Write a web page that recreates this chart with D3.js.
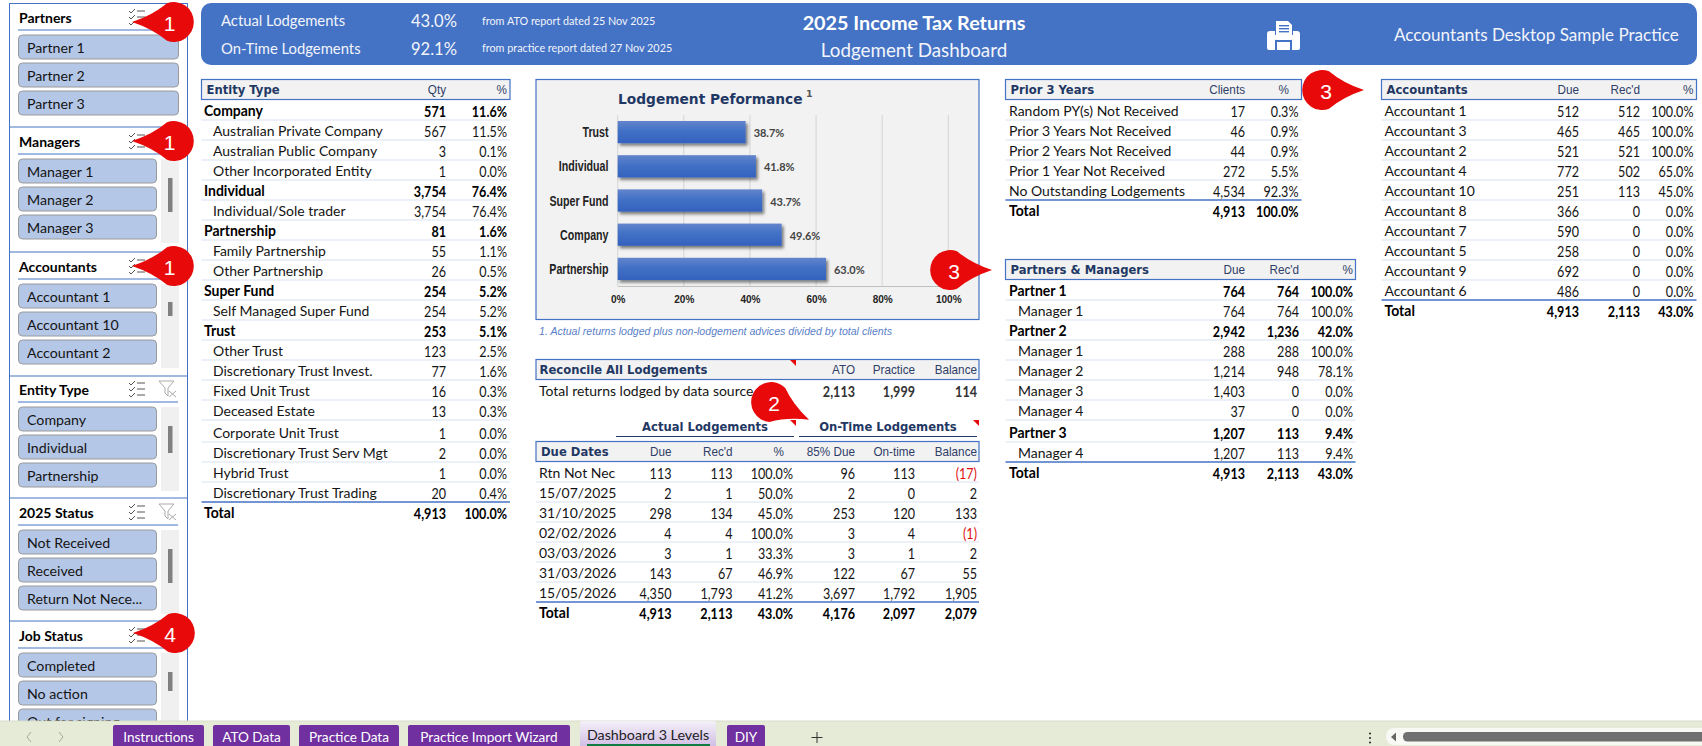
<!DOCTYPE html>
<html><head><meta charset="utf-8">
<script src="https://cdn.jsdelivr.net/npm/d3@7"></script>
<style>
html,body{margin:0;padding:0;background:#fff;overflow:hidden}
svg{display:block}
.cell{font-family:Lato,Carlito,sans-serif;font-size:14.2px;fill:#141414;dominant-baseline:central}
.cell.b{font-weight:700;fill:#000}
.thead{font-family:"DejaVu Sans",sans-serif;font-weight:700;font-size:11.6px;fill:#1f3864;dominant-baseline:central}
.chead{font-family:"Liberation Sans",sans-serif;font-size:13px;fill:#2f4068;dominant-baseline:central;text-anchor:end}
.hdr{font-family:Lato,sans-serif;fill:#f2f5fc;dominant-baseline:central}
</style></head><body><div id="chart"></div>
<script>
// ---- slicers ----
const partnerItems=["Partner 1","Partner 2","Partner 3"];
const managerItems=["Manager 1","Manager 2","Manager 3"];
const accountantItems=["Accountant 1","Accountant 10","Accountant 2"];
const entityItems=["Company","Individual","Partnership"];
const statusItems=["Not Received","Received","Return Not Nece..."];
const jobItems=["Completed","No action","Out for signing"];
// ---- performance chart ----
const perfCategories=["Trust","Individual","Super Fund","Company","Partnership"];
const perfValues=[38.7,41.8,43.7,49.6,63.0];
const perfTicks=[0,20,40,60,80,100];
// ---- entity table ----
const entityNames=["Company","Australian Private Company","Australian Public Company","Other Incorporated Entity","Individual","Individual/Sole trader","Partnership","Family Partnership","Other Partnership","Super Fund","Self Managed Super Fund","Trust","Other Trust","Discretionary Trust Invest.","Fixed Unit Trust","Deceased Estate","Corporate Unit Trust","Discretionary Trust Serv Mgt","Hybrid Trust","Discretionary Trust Trading","Total"];
const entityQty=[571,567,3,1,3754,3754,81,55,26,254,254,253,123,77,16,13,1,2,1,20,4913];
const entityPct=[11.6,11.5,0.1,0.0,76.4,76.4,1.6,1.1,0.5,5.2,5.2,5.1,2.5,1.6,0.3,0.3,0.0,0.0,0.0,0.4,100.0];
const entityGroups=["Company","Individual","Partnership","Super Fund","Trust"];
// ---- prior years ----
const priorNames=["Random PY(s) Not Received","Prior 3 Years Not Received","Prior 2 Years Not Received","Prior 1 Year Not Received","No Outstanding Lodgements","Total"];
const priorClients=[17,46,44,272,4534,4913];
const priorPct=[0.3,0.9,0.9,5.5,92.3,100.0];
// ---- partners & managers ----
const pmNames=["Partner 1","Manager 1","Partner 2","Manager 1","Manager 2","Manager 3","Manager 4","Partner 3","Manager 4","Total"];
const pmDue=[764,764,2942,288,1214,1403,37,1207,1207,4913];
const pmRecd=[764,764,1236,288,948,0,0,113,113,2113];
const pmPct=[100.0,100.0,42.0,100.0,78.1,0.0,0.0,9.4,9.4,43.0];
const pmGroups=["Partner 1","Partner 2","Partner 3"];
// ---- accountants ----
const accNames=["Accountant 1","Accountant 3","Accountant 2","Accountant 4","Accountant 10","Accountant 8","Accountant 7","Accountant 5","Accountant 9","Accountant 6","Total"];
const accDue=[512,465,521,772,251,366,590,258,692,486,4913];
const accRecd=[512,465,521,502,113,0,0,0,0,0,2113];
const accPct=[100.0,100.0,100.0,65.0,45.0,0.0,0.0,0.0,0.0,0.0,43.0];
// ---- reconcile ----
const reconcileLabel=["Total returns lodged by data source"];
const reconcileAto=[2113], reconcilePractice=[1999], reconcileBalance=[114];
// ---- due dates ----
const dueNames=["Rtn Not Nec","15/07/2025","31/10/2025","02/02/2026","03/03/2026","31/03/2026","15/05/2026","Total"];
const dueDue=[113,2,298,4,3,143,4350,4913];
const dueRecd=[113,1,134,4,1,67,1793,2113];
const duePct=[100.0,50.0,45.0,100.0,33.3,46.9,41.2,43.0];
const due85=[96,2,253,3,3,122,3697,4176];
const dueOnTime=[113,0,120,4,1,67,1792,2097];
const dueBalance=[-17,2,133,-1,2,55,1905,2079];
// ---- tabs ----
const tabNames=["Instructions","ATO Data","Practice Data","Practice Import Wizard","Dashboard 3 Levels","DIY"];

const W=1702,H=746,BLUE="#4472c4",NAVY="#1f3864";
const fi=d3.format(","),fp=v=>d3.format(".1f")(v)+"%";
const svg=d3.select("#chart").append("svg").attr("width",W).attr("height",H).attr("viewBox",`0 0 ${W} ${H}`);
const defs=svg.append("defs");
const grad=defs.append("linearGradient").attr("id","barGrad").attr("x1",0).attr("x2",0).attr("y1",0).attr("y2",1);
grad.append("stop").attr("offset","0").attr("stop-color","#6384cc");
grad.append("stop").attr("offset","0.45").attr("stop-color","#4271c6");
grad.append("stop").attr("offset","1").attr("stop-color","#3361bd");
const sh=defs.append("filter").attr("id","barShadow").attr("x","-5%").attr("y","-20%").attr("width","115%").attr("height","150%");
sh.append("feDropShadow").attr("dx",2).attr("dy",2.5).attr("stdDeviation",1.6).attr("flood-color","#000").attr("flood-opacity",.5);
const tg=defs.append("linearGradient").attr("id","tabGrad").attr("x1",0).attr("x2",0).attr("y1",0).attr("y2",1);
tg.append("stop").attr("offset","0").attr("stop-color","#f4f0f8");
tg.append("stop").attr("offset","1").attr("stop-color","#d2bfe6");

function line(g,x1,x2,y1,y2,col,w){return g.append("line").attr("x1",x1).attr("x2",x2).attr("y1",y1).attr("y2",y2).attr("stroke",col).attr("stroke-width",w||1);}
function txt(g,x,y,s,cls,anchor){return g.append("text").attr("x",x).attr("y",y).attr("class",cls).attr("text-anchor",anchor||"start").text(s);}
// condense a text horizontally, the reference faces are narrower than the installed ones
function squeeze(sel,f){return sel.each(function(){const l=this.getComputedTextLength();d3.select(this).attr("textLength",l*f).attr("lengthAdjust","spacingAndGlyphs");});}

// ===== Header banner =====
const hb=svg.append("g");
hb.append("rect").attr("x",201).attr("y",3).attr("width",1496).attr("height",62).attr("rx",10).attr("fill",BLUE);
txt(hb,221,20,"Actual Lodgements","hdr").style("font-size","14.8px");
txt(hb,221,48,"On-Time Lodgements","hdr").style("font-size","14.8px");
squeeze(txt(hb,411,20,"43.0%","hdr").style("font-size","18px"),.92);
squeeze(txt(hb,411,48,"92.1%","hdr").style("font-size","18px"),.92);
txt(hb,482,20,"from ATO report dated 25 Nov 2025","hdr").style("font-size","10.8px");
txt(hb,482,47,"from practice report dated 27 Nov 2025","hdr").style("font-size","10.8px");
txt(hb,914,22,"2025 Income Tax Returns","hdr","middle").style("font-size","19.8px").style("font-weight",700).style("fill","#fff");
txt(hb,914,49,"Lodgement Dashboard","hdr","middle").style("font-size","18.8px");
txt(hb,1394,34,"Accountants Desktop Sample Practice","hdr").style("font-size","17.1px");
// printer icon
const pr=hb.append("g").attr("transform","translate(1267,21)");
pr.append("path").attr("d","M9 0H21L25 4V14H9Z").attr("fill","#fff");
pr.append("path").attr("d","M3 10H8V14H26V10H30Q33 10 33 13V27Q33 29 31 29H2Q0 29 0 27V13Q0 10 3 10Z").attr("fill","#fff");
pr.append("rect").attr("x",8).attr("y",19).attr("width",17).attr("height",10).attr("fill",BLUE);
pr.append("rect").attr("x",10).attr("y",21).attr("width",13).attr("height",8).attr("fill","#fff");
[4,7,10].forEach(y=>pr.append("rect").attr("x",12).attr("y",y).attr("width",10).attr("height",1.4).attr("fill",BLUE));

// ===== Slicers =====
function listIcon(g,x,y){
  const i=g.append("g").attr("transform",`translate(${x},${y})`).attr("fill","none").attr("stroke","#555").attr("stroke-width",1);
  [0,6,12].forEach(d=>{i.append("path").attr("d",`M0 ${d+2}L2 ${d+4}L6 ${d}`);i.append("path").attr("d",`M8 ${d+2}H16`);});
}
function filterIcon(g,x,y){
  const i=g.append("g").attr("transform",`translate(${x},${y})`).attr("fill","none").attr("stroke","#aaa").attr("stroke-width",1);
  i.append("path").attr("d","M0 0H15L9 7V15L6 12V7Z");
  i.append("path").attr("d","M10 10L17 16M17 10L10 16");
}
function slicer(top,bottom,title,items,opt){
  const g=svg.append("g"),scroll=opt.thumb;
  line(g,10,187,bottom,bottom,BLUE);
  const t=top+14;
  txt(g,19,t,title,"cell b").style("font-size","14px");
  line(g,18,178,t+13,t+13,BLUE);
  listIcon(g,129,t-8); filterIcon(g,159,t-8);
  const bw=scroll?138:160, y0=t+18;
  const yS=d3.scaleBand().domain(items).range([y0,y0+80]).paddingInner(4/28).paddingOuter(0);
  if(scroll){
    g.append("rect").attr("x",161).attr("y",y0).attr("width",18).attr("height",Math.min(84,721-y0)).attr("fill","#f0f0f0");
    g.append("rect").attr("x",168).attr("y",scroll[0]).attr("width",4.5).attr("height",scroll[1]-scroll[0]).attr("fill","#808080");
  }
  items.forEach(d=>{
    g.append("rect").attr("x",18.5).attr("y",yS(d)).attr("width",bw).attr("height",24).attr("rx",4).attr("fill","#b4c7e7").attr("stroke","#9a9a9a");
    txt(g,27,yS(d)+12.5,d,"cell").style("font-size","14.2px");
  });
}
svg.append("rect").attr("x",9.5).attr("y",3.5).attr("width",178).attr("height",718).attr("fill","#fff").attr("stroke",BLUE);
slicer(3,127,"Partners",partnerItems,{});
slicer(127,252,"Managers",managerItems,{thumb:[178,212]});
slicer(252,376,"Accountants",accountantItems,{thumb:[302,316]});
slicer(375,498,"Entity Type",entityItems,{thumb:[426,453]});
slicer(498,621,"2025 Status",statusItems,{thumb:[549,583]});
slicer(621,1000,"Job Status",jobItems,{thumb:[672,691]});

// ===== Generic table =====
function table(o){
  const g=svg.append("g");
  const h=o.top;
  g.append("rect").attr("x",o.x0).attr("y",h).attr("width",o.x1-o.x0).attr("height",20).attr("fill","#f2f2f2").attr("stroke",BLUE).attr("stroke-width",1.2);
  txt(g,o.x0+o.titleDx,h+10,o.title,"thead");
  o.cols.forEach(c=>squeeze(txt(g,c.hx||c.x,h+10,c.head,"chead"),.9));
  const n=o.names.length;
  const base=d3.scaleLinear().domain([0,1]).range([h+31,h+51]);
  const yR=i=>base(i)+(o.gapFrom!=null&&i>=o.gapFrom?2:0);
  o.names.forEach((name,i)=>{
    const isTotal=name==="Total", y=yR(i);
    const bold=isTotal||(o.groups||[]).includes(name);
    if(i<n-1) line(g,o.x0,o.x1,y+9.5,y+9.5,i===n-2&&o.hasTotal!==false?BLUE:"#d9e2f3",i===n-2&&o.hasTotal!==false?1.3:1);
    const indent=o.groups&&!bold?o.indent:0;
    squeeze(txt(g,o.x0+o.textDx+indent,y,name,"cell"+(bold?" b":"")),.985);
    o.cols.forEach(c=>{
      const v=c.vals[i];
      const t=txt(g,c.x,y,c.fmt(v),"cell"+(bold||c.bold?" b":""),"end").style("font-size","14.8px");
      squeeze(t,.85);
      if(c.bold) t.style("fill","#333");
      if(v<0&&c.red) t.style("fill","#e01010");
    });
  });
}
const fb=v=>v<0?`(${fi(-v)})`:fi(v);
table({x0:201.5,x1:510,top:79.5,title:"Entity Type",titleDx:5,textDx:2.5,indent:9,names:entityNames,groups:entityGroups,gapFrom:16,
  cols:[{head:"Qty",x:446,vals:entityQty,fmt:fi},{head:"%",x:507,vals:entityPct,fmt:fp}]});
table({x0:1005.5,x1:1301.5,top:79.5,title:"Prior 3 Years",titleDx:5,textDx:3.5,names:priorNames,
  cols:[{head:"Clients",x:1245,vals:priorClients,fmt:fi},{head:"%",x:1298.5,hx:1289,vals:priorPct,fmt:fp}]});
table({x0:1005.5,x1:1355.5,top:259.5,title:"Partners & Managers",titleDx:5,textDx:3.5,indent:9,names:pmNames,groups:pmGroups,gapFrom:7,
  cols:[{head:"Due",x:1245,vals:pmDue,fmt:fi},{head:"Rec'd",x:1299,vals:pmRecd,fmt:fi},{head:"%",x:1353,vals:pmPct,fmt:fp}]});
table({x0:1381.5,x1:1696.5,top:79.5,title:"Accountants",titleDx:5,textDx:3,names:accNames,
  cols:[{head:"Due",x:1579,vals:accDue,fmt:fi},{head:"Rec'd",x:1640,vals:accRecd,fmt:fi},{head:"%",x:1693.5,vals:accPct,fmt:fp}]});
table({x0:536,x1:979,top:359.5,title:"Reconcile All Lodgements",titleDx:3.5,textDx:3,names:reconcileLabel,hasTotal:false,
  cols:[{head:"ATO",x:855,vals:reconcileAto,fmt:fi,bold:1},{head:"Practice",x:915,vals:reconcilePractice,fmt:fi,bold:1},{head:"Balance",x:977,vals:reconcileBalance,fmt:fi,bold:1}]});
table({x0:536,x1:979,top:441.5,title:"Due Dates",titleDx:5,textDx:3,names:dueNames,
  cols:[{head:"Due",x:671.5,vals:dueDue,fmt:fi},{head:"Rec'd",x:732.5,vals:dueRecd,fmt:fi},{head:"%",x:793,hx:784,vals:duePct,fmt:fp},
        {head:"85% Due",x:855,vals:due85,fmt:fi},{head:"On-time",x:915,vals:dueOnTime,fmt:fi},{head:"Balance",x:977,vals:dueBalance,fmt:fb,red:1}]});
// group headings
const gh=svg.append("g");
txt(gh,705,427,"Actual Lodgements","thead","middle");
txt(gh,888,427,"On-Time Lodgements","thead","middle");
line(gh,616,794,436.5,436.5,NAVY,1.2);
line(gh,799,977,436.5,436.5,NAVY,1.2);
[[790,360],[790,420],[973,420]].forEach(p=>gh.append("path").attr("d",`M${p[0]} ${p[1]}H${p[0]+6}V${p[1]+6}Z`).attr("fill","#e60b0b"));

// ===== Performance chart =====
const cg=svg.append("g");
cg.append("rect").attr("x",536).attr("y",79.5).attr("width",443).attr("height",240).attr("fill","#f2f2f2").attr("stroke",BLUE).attr("stroke-width",1.2);
const x=d3.scaleLinear().domain([0,100]).range([617.7,948.3]);
const y=d3.scaleBand().domain(perfCategories).range([115,286]).paddingInner(.35).paddingOuter(.175);
const axB=d3.axisBottom(x).tickValues(perfTicks).tickFormat(d=>d+"%").tickSize(0).tickPadding(9);
const ax=cg.append("g").attr("transform","translate(0,286)").call(axB);
ax.select(".domain").attr("stroke","#bfbfbf");
ax.selectAll("text").attr("font-family","Liberation Sans, sans-serif").attr("font-weight",700).attr("font-size","10.8px").attr("fill","#222");
squeeze(ax.selectAll("text"),.93);
cg.append("g").selectAll("line").data(perfTicks).join("line").attr("x1",d=>x(d)).attr("x2",d=>x(d)).attr("y1",115).attr("y2",286).attr("stroke","#d4d4d4");
cg.append("g").selectAll("rect").data(perfValues).join("rect")
  .attr("x",x(0)).attr("y",(d,i)=>y(perfCategories[i])).attr("width",d=>x(d)-x(0)).attr("height",y.bandwidth())
  .attr("fill","url(#barGrad)").attr("filter","url(#barShadow)");
squeeze(cg.append("g").selectAll("text").data(perfValues).join("text")
  .attr("x",d=>x(d)+8).attr("y",(d,i)=>y(perfCategories[i])+y.bandwidth()/2+.5).attr("dominant-baseline","central")
  .attr("font-family","Lato,sans-serif").attr("font-weight",700).attr("font-size","12.2px").attr("fill","#444").text(d=>fp(d)),.9);
squeeze(cg.append("g").selectAll("text").data(perfCategories).join("text")
  .attr("x",608.5).attr("y",d=>y(d)+y.bandwidth()/2).attr("dominant-baseline","central").attr("text-anchor","end")
  .attr("font-family","Liberation Sans, sans-serif").attr("font-weight",700).attr("font-size","14px").attr("fill","#222").text(d=>d),.76);
txt(cg,618,99,"Lodgement Peformance","thead").style("font-size","13.75px");
txt(cg,806,93,"1","thead").style("font-size","9.5px").style("fill","#555");
squeeze(txt(cg,539,331,"1. Actual returns lodged plus non-lodgement advices divided by total clients","cell")
  .style("font-family","Liberation Sans, sans-serif").style("font-style","italic").style("font-size","11.4px").style("fill","#5b7fc7"),.93);

// ===== Callouts =====
function callout(cx,cy,angle,label,tx){
  const R=20,L=42,g=svg.append("g");
  g.append("path").attr("transform",`translate(${cx},${cy}) rotate(${angle})`)
    .attr("d",`M${-L} 0Q${-R*1.05} ${-R*.35} ${-R*.35} ${-R*.94}A${R} ${R} 0 1 1 ${-R*.35} ${R*.94}Q${-R*1.05} ${R*.35} ${-L} 0Z`)
    .attr("fill","#e80a0a");
  g.append("text").attr("x",tx).attr("y",cy+1).attr("text-anchor","middle").attr("dominant-baseline","central")
    .attr("font-family","Liberation Sans, sans-serif").attr("font-size","21px").attr("fill","#fff").text(label);
}
callout(174,22,0,"1",169.5);
callout(174,141,0,"1",169.5);
callout(174,266,0,"1",169.5);
callout(175,633,0,"4",170);
callout(771,402,205,"2",774);
callout(950,270,180,"3",954);
callout(1322,90,180,"3",1326);

// ===== Bottom tab bar =====
const tb=svg.append("g");
tb.append("rect").attr("x",0).attr("y",721).attr("width",W).attr("height",25).attr("fill","#e6ebd7");
line(tb,0,W,721,721,"#d8dccb");
const tabX=d3.scaleOrdinal().domain(tabNames).range([113,213,299,408,580,727]);
const tabW=d3.scaleOrdinal().domain(tabNames).range([91,77,100,162,136,38]);
tabNames.forEach(n=>{
  const act=n==="Dashboard 3 Levels",x0=tabX(n),w=tabW(n);
  tb.append("path").attr("d",`M${x0} 746V${act?723:727}q0-2 2-2H${x0+w-2}q2 0 2 2V746Z`).attr("fill",act?"url(#tabGrad)":"#7030a0");
  tb.append("text").attr("x",x0+w/2).attr("y",act?734:737).attr("text-anchor","middle").attr("dominant-baseline","central")
    .attr("font-family","Lato,sans-serif").attr("font-size",act?"14.3px":"13.6px").attr("fill",act?"#222":"#fff").text(n);
  if(act) tb.append("rect").attr("x",587).attr("y",744).attr("width",123).attr("height",2).attr("fill","#107c41");
});
tb.append("path").attr("d","M31 732L27 737L31 742M59 732L63 737L59 742").attr("fill","none").attr("stroke","#a5a89c").attr("stroke-width",1);
tb.append("path").attr("d","M817 732V743M811.5 737.5H822.5").attr("stroke","#333").attr("fill","none");
[733.5,738,742.5].forEach(cy=>tb.append("circle").attr("cx",1370).attr("cy",cy).attr("r",1).attr("fill","#222"));
tb.append("rect").attr("x",1386).attr("y",728).attr("width",330).attr("height",17).attr("rx",8).attr("fill","#f8f8f4");
tb.append("path").attr("d","M1396 732.5V741.5L1391 737Z").attr("fill","#666");
tb.append("rect").attr("x",1403).attr("y",732).attr("width",310).attr("height",9.5).attr("rx",4.5).attr("fill","#707070");
</script></body></html>
